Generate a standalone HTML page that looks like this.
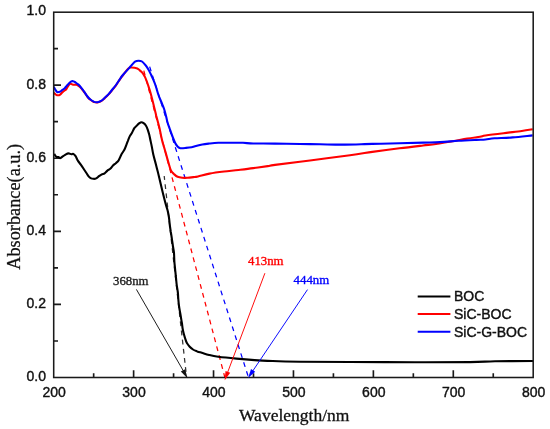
<!DOCTYPE html>
<html><head><meta charset="utf-8"><style>
html,body{margin:0;padding:0;background:#fff;}
svg{display:block;}
</style></head><body>
<svg width="550" height="429" viewBox="0 0 550 429">
<rect width="550" height="429" fill="#fff"/>
<path d="M53.7,340.95H58.0M53.7,304.40H61.0M53.7,267.85H58.0M53.7,231.30H61.0M53.7,194.75H58.0M53.7,158.20H61.0M53.7,121.65H58.0M53.7,85.10H61.0M53.7,48.55H58.0M93.66,377.5V373.2M133.62,377.5V370.2M173.58,377.5V373.2M213.54,377.5V370.2M253.50,377.5V373.2M293.46,377.5V370.2M333.42,377.5V373.2M373.38,377.5V370.2M413.34,377.5V373.2M453.30,377.5V370.2M493.26,377.5V373.2" stroke="#1a1a1a" stroke-width="1.65" fill="none"/>
<g stroke-width="1.25" stroke-dasharray="4.8 4.4" fill="none">
<line x1="164.2" y1="176" x2="186.6" y2="377.5" stroke="#333" stroke-dashoffset="0.9"/>
<line x1="143.2" y1="68.3" x2="224.9" y2="377.5" stroke="#f00" stroke-dashoffset="6.8"/>
<line x1="148.8" y1="64" x2="248.5" y2="377.5" stroke="#00f" stroke-dasharray="4.8 4.6" stroke-dashoffset="6.6"/>
</g>
<g fill="none" stroke-width="2.1" stroke-linejoin="round" stroke-linecap="butt">
<path d="M54.2,153.9 C54.5,154.4 55.4,156.2 56.1,156.7 C56.8,157.2 57.7,156.9 58.4,157.1 C59.1,157.3 59.5,158.2 60.3,158.1 C61.1,157.9 62.2,156.8 63.1,156.2 C64.0,155.6 65.0,154.8 65.9,154.3 C66.8,153.8 67.7,153.4 68.6,153.4 C69.5,153.4 70.6,154.2 71.4,154.3 C72.2,154.4 72.6,153.6 73.3,153.9 C74.0,154.2 74.8,155.0 75.6,156.2 C76.4,157.4 77.1,159.5 78.0,160.9 C78.9,162.3 79.9,163.3 80.8,164.6 C81.7,165.9 82.7,167.4 83.6,168.8 C84.5,170.2 85.6,171.8 86.4,173.0 C87.2,174.2 87.5,175.0 88.2,175.8 C88.9,176.7 89.7,177.6 90.6,178.1 C91.5,178.6 92.5,178.8 93.4,178.8 C94.3,178.9 95.3,178.8 96.2,178.4 C97.1,178.0 98.1,176.9 99.0,176.2 C99.9,175.5 100.9,174.9 101.8,174.4 C102.7,173.9 103.7,174.0 104.6,173.4 C105.5,172.8 106.5,171.4 107.4,170.6 C108.3,169.8 109.3,169.7 110.2,168.8 C111.1,168.0 112.1,166.4 113.0,165.5 C113.9,164.6 114.9,164.0 115.8,163.2 C116.7,162.3 117.6,161.9 118.6,160.4 C119.5,158.9 120.5,156.1 121.5,154.3 C122.5,152.5 123.7,151.1 124.5,149.5 C125.3,147.9 125.9,146.2 126.4,144.8 C127.0,143.4 127.2,142.5 127.8,141.1 C128.3,139.7 129.0,137.8 129.7,136.4 C130.4,135.0 131.2,134.1 132.0,132.7 C132.8,131.3 133.5,129.3 134.3,128.1 C135.2,126.9 136.2,126.1 137.1,125.3 C137.9,124.5 138.7,123.7 139.4,123.2 C140.1,122.7 140.6,122.3 141.3,122.3 C142.0,122.3 142.8,122.6 143.6,123.2 C144.4,123.8 145.3,124.6 146.0,125.7 C146.7,126.8 147.3,128.4 147.8,129.9 C148.3,131.4 148.7,132.7 149.2,134.6 C149.7,136.5 150.1,138.9 150.6,141.1 C151.1,143.3 151.6,145.4 152.0,147.6 C152.4,149.8 152.7,151.8 153.3,154.5 C153.9,157.2 155.1,161.2 155.8,164.0 C156.5,166.8 157.0,168.7 157.6,171.0 C158.2,173.3 158.6,175.0 159.3,178.0 C160.0,181.0 160.9,184.8 161.9,189.0 C162.9,193.2 164.5,199.5 165.4,203.0 C166.3,206.5 166.9,207.7 167.5,210.0 C168.1,212.3 168.5,214.5 168.9,217.0 C169.3,219.5 169.5,222.5 169.8,225.0 C170.1,227.5 170.5,229.7 170.8,232.0 C171.2,234.3 171.6,236.7 171.9,239.0 C172.2,241.3 172.6,243.7 172.9,246.0 C173.2,248.3 173.8,250.3 174.0,253.0 C174.2,255.7 174.2,259.3 174.4,262.0 C174.6,264.7 174.9,266.7 175.1,269.0 C175.3,271.3 175.6,273.5 175.8,276.0 C176.1,278.5 176.3,281.3 176.6,284.0 C176.9,286.7 177.5,289.5 177.8,292.0 C178.1,294.5 178.1,296.7 178.3,299.0 C178.5,301.3 178.7,303.7 179.0,306.0 C179.3,308.3 179.8,310.7 180.2,313.0 C180.6,315.3 181.0,317.8 181.3,319.7 C181.6,321.6 181.9,322.8 182.1,324.3 C182.3,325.9 182.4,327.4 182.7,329.0 C183.0,330.6 183.3,332.1 183.7,333.6 C184.1,335.2 184.6,336.7 185.1,338.3 C185.6,339.9 186.1,341.6 186.9,343.0 C187.7,344.4 188.7,345.6 189.7,346.7 C190.7,347.8 191.8,348.7 193.0,349.5 C194.2,350.3 195.7,350.8 197.2,351.4 C198.7,351.9 199.8,352.2 201.8,352.8 C203.8,353.4 206.4,354.3 209.1,355.0 C211.8,355.7 213.6,356.2 218.2,356.8 C222.8,357.4 230.3,358.1 236.4,358.6 C242.5,359.2 248.4,359.7 254.5,360.1 C260.6,360.5 265.1,360.7 272.7,361.0 C280.3,361.3 287.1,361.5 300.0,361.7 C312.9,361.9 330.8,361.9 350.0,362.0 C369.2,362.1 395.0,362.2 415.0,362.2 C435.0,362.2 456.7,362.2 470.0,362.1 C483.3,362.0 484.5,361.5 495.0,361.3 C505.5,361.1 526.7,361.1 533.0,361.0" stroke="#000"/>
<path d="M53.8,92.8 C54.1,93.1 55.2,94.2 55.9,94.6 C56.6,95.0 57.3,95.3 58.0,95.3 C58.7,95.3 59.4,95.1 60.1,94.6 C60.8,94.1 61.5,93.2 62.2,92.5 C62.9,91.8 63.6,91.3 64.3,90.7 C65.0,90.1 65.8,89.8 66.4,89.0 C67.1,88.2 67.6,86.7 68.2,85.8 C68.8,84.9 69.6,83.9 70.3,83.7 C71.0,83.5 71.7,84.2 72.4,84.4 C73.1,84.6 73.8,84.7 74.5,84.8 C75.2,84.9 75.7,84.4 76.6,84.8 C77.5,85.2 78.7,85.7 80.0,86.9 C81.3,88.1 83.1,90.6 84.3,92.2 C85.5,93.8 86.2,95.1 87.1,96.3 C88.0,97.5 88.8,98.5 89.9,99.4 C91.0,100.3 92.3,101.4 93.6,101.9 C94.8,102.4 96.2,102.6 97.4,102.5 C98.7,102.4 99.9,101.9 101.1,101.2 C102.3,100.5 103.5,99.2 104.8,98.1 C106.0,97.0 107.4,95.7 108.6,94.4 C109.8,93.1 110.8,91.8 112.0,90.3 C113.2,88.8 114.6,87.2 116.0,85.3 C117.4,83.3 119.2,80.3 120.4,78.6 C121.6,76.8 121.9,76.5 123.3,74.8 C124.7,73.1 127.2,69.5 128.6,68.3 C130.0,67.1 130.1,67.5 131.5,67.5 C132.9,67.5 135.9,67.9 137.3,68.4 C138.7,68.9 139.2,69.9 140.0,70.6 C140.8,71.3 141.5,71.7 142.3,72.7 C143.1,73.7 143.9,74.9 144.7,76.4 C145.5,78.0 146.3,80.1 147.0,82.0 C147.7,83.9 148.3,85.7 148.9,87.6 C149.5,89.5 150.0,91.1 150.7,93.5 C151.4,95.9 152.2,99.4 152.9,102.0 C153.6,104.6 154.0,106.7 154.6,109.0 C155.2,111.3 155.8,113.8 156.3,116.0 C156.9,118.2 157.3,119.8 157.9,122.0 C158.5,124.2 159.2,126.7 159.7,129.0 C160.2,131.3 160.6,133.8 161.1,136.0 C161.6,138.2 162.1,140.4 162.5,142.0 C162.9,143.6 163.1,143.9 163.6,145.6 C164.1,147.3 164.9,149.9 165.5,152.1 C166.1,154.3 166.7,156.4 167.3,158.6 C167.9,160.8 168.6,163.2 169.2,165.2 C169.8,167.2 170.3,169.3 171.1,170.8 C171.9,172.3 172.8,173.0 173.9,174.0 C175.0,175.0 176.2,176.2 177.6,176.8 C179.0,177.4 180.5,177.6 182.2,177.8 C183.9,178.0 185.9,177.9 187.8,177.8 C189.7,177.7 191.7,177.3 193.4,177.1 C195.1,176.9 195.3,177.0 198.0,176.4 C200.7,175.8 205.2,174.4 209.5,173.6 C213.8,172.8 219.2,172.1 224.1,171.5 C228.9,170.9 233.8,170.6 238.6,170.0 C243.4,169.4 248.3,168.8 253.2,168.1 C258.1,167.4 264.1,166.6 267.7,166.1 C271.3,165.6 267.9,165.8 275.0,164.9 C282.1,164.0 297.5,162.1 310.0,160.5 C322.5,158.9 339.6,156.6 350.0,155.2 C360.4,153.8 364.1,153.1 372.3,151.9 C380.6,150.8 391.1,149.4 399.5,148.3 C407.9,147.2 416.9,146.2 423.0,145.5 C429.1,144.8 431.1,144.7 436.0,144.0 C440.9,143.3 447.5,142.2 452.7,141.3 C457.9,140.4 462.8,139.3 467.3,138.6 C471.9,137.8 477.0,137.3 480.0,136.8 C483.0,136.3 481.6,136.1 485.5,135.5 C489.4,134.9 497.6,133.9 503.6,133.2 C509.7,132.4 516.9,131.7 521.8,131.0 C526.6,130.3 530.9,129.5 532.7,129.2" stroke="#f00"/>
<path d="M53.8,86.9 C54.1,87.4 55.0,89.1 55.6,90.0 C56.2,90.9 56.6,91.8 57.3,92.1 C58.0,92.4 59.0,92.1 59.8,91.8 C60.6,91.5 61.4,90.6 62.2,90.0 C63.0,89.4 63.9,89.0 64.7,88.3 C65.5,87.6 66.1,86.6 66.8,85.8 C67.5,85.0 68.2,84.1 68.9,83.4 C69.6,82.7 70.3,82.0 71.0,81.6 C71.7,81.2 72.5,81.1 73.1,81.2 C73.7,81.3 74.2,81.7 74.8,82.0 C75.4,82.3 75.9,82.8 76.6,83.3 C77.2,83.8 77.9,84.0 78.7,84.8 C79.5,85.6 80.6,86.9 81.5,88.1 C82.4,89.3 83.4,90.5 84.3,91.8 C85.2,93.1 86.2,94.8 87.1,96.0 C88.0,97.2 88.8,98.2 89.9,99.1 C91.0,100.0 92.3,101.1 93.6,101.6 C94.8,102.1 96.2,102.3 97.4,102.2 C98.7,102.1 99.9,101.6 101.1,100.9 C102.3,100.2 103.5,98.9 104.8,97.8 C106.0,96.7 107.4,95.4 108.6,94.1 C109.8,92.8 110.8,91.5 112.0,90.0 C113.2,88.5 114.6,87.0 116.0,85.0 C117.4,83.0 119.2,80.0 120.4,78.3 C121.6,76.5 121.8,76.2 123.3,74.5 C124.8,72.8 127.6,69.7 129.1,68.1 C130.5,66.5 131.0,65.9 132.0,64.8 C133.0,63.7 133.9,62.4 135.0,61.7 C136.1,61.0 137.3,60.7 138.5,60.7 C139.7,60.7 140.8,60.7 142.0,61.5 C143.2,62.3 144.5,64.0 145.6,65.3 C146.7,66.6 147.5,67.9 148.4,69.5 C149.3,71.1 150.3,73.2 151.2,75.0 C152.0,76.8 152.7,78.3 153.5,80.2 C154.3,82.1 155.1,84.0 155.9,86.5 C156.7,89.0 157.6,92.4 158.5,95.0 C159.4,97.6 160.4,99.7 161.3,102.0 C162.2,104.3 163.3,106.7 164.1,109.0 C164.9,111.3 165.4,113.8 166.0,116.0 C166.6,118.2 166.8,119.8 167.4,122.0 C168.0,124.2 169.0,126.7 169.8,129.0 C170.6,131.3 171.4,133.7 172.3,136.0 C173.2,138.3 174.3,141.2 175.2,143.0 C176.1,144.8 176.7,145.6 177.6,146.5 C178.5,147.4 179.0,148.0 180.4,148.2 C181.8,148.4 184.1,148.1 186.0,147.9 C187.9,147.8 190.1,147.6 191.6,147.3 C193.1,147.0 193.2,146.8 195.0,146.3 C196.8,145.8 199.9,145.0 202.3,144.5 C204.7,144.0 206.8,143.8 209.5,143.5 C212.2,143.2 214.7,142.9 218.3,142.8 C222.0,142.7 227.3,142.7 231.4,142.7 C235.5,142.7 239.4,142.7 243.0,142.8 C246.6,142.9 247.9,143.4 253.2,143.5 C258.5,143.6 267.2,143.5 275.0,143.6 C282.8,143.7 292.5,143.9 300.0,144.0 C307.5,144.1 312.5,144.2 320.0,144.3 C327.5,144.4 336.3,144.7 345.0,144.6 C353.7,144.5 363.2,144.1 372.3,143.9 C381.4,143.7 391.0,143.4 399.5,143.2 C408.0,143.0 416.4,142.8 423.2,142.6 C429.9,142.4 434.2,142.4 440.0,142.1 C445.8,141.8 452.1,141.2 458.2,140.8 C464.3,140.4 471.8,140.1 476.4,139.9 C480.9,139.7 482.5,139.8 485.5,139.5 C488.5,139.2 490.0,138.7 494.5,138.3 C499.0,138.0 506.3,137.9 512.7,137.4 C519.1,136.9 529.4,135.7 532.7,135.4" stroke="#00f"/>
</g>
<rect x="53.7" y="12.2" width="479.5" height="365.3" fill="none" stroke="#1a1a1a" stroke-width="1.55"/>
<line x1="136.4" y1="289.4" x2="184.4" y2="372.7" stroke="#111" stroke-width="0.95"/><polygon points="187.5,378.2 180.8,371.6 185.2,369.2" fill="#111"/>
<line x1="264.9" y1="273.2" x2="226.9" y2="374.3" stroke="#f00" stroke-width="0.95"/><polygon points="224.7,380.2 225.5,370.9 230.2,372.7" fill="#f00"/>
<line x1="307.5" y1="289.6" x2="251.6" y2="372.7" stroke="#00f" stroke-width="0.95"/><polygon points="248.1,377.9 251.0,369.0 255.2,371.8" fill="#00f"/>
<g font-family="Liberation Serif, serif" font-size="12.8" stroke-width="0.35">
<text x="113" y="285.1" fill="#222" stroke="#222">368nm</text>
<text x="248" y="265" fill="#f00" stroke="#f00">413nm</text>
<text x="293.6" y="284.3" fill="#00f" stroke="#00f">444nm</text>
</g>
<g font-family="Liberation Sans, sans-serif" font-size="14" fill="#111" stroke="#111" stroke-width="0.4">
<text x="46" y="380.9" text-anchor="end">0.0</text>
<text x="46" y="307.8" text-anchor="end">0.2</text>
<text x="46" y="234.7" text-anchor="end">0.4</text>
<text x="46" y="161.6" text-anchor="end">0.6</text>
<text x="46" y="88.5" text-anchor="end">0.8</text>
<text x="46" y="15.4" text-anchor="end">1.0</text>
<text x="54.1" y="396.5" text-anchor="middle">200</text>
<text x="134.0" y="396.5" text-anchor="middle">300</text>
<text x="213.9" y="396.5" text-anchor="middle">400</text>
<text x="293.9" y="396.5" text-anchor="middle">500</text>
<text x="373.8" y="396.5" text-anchor="middle">600</text>
<text x="453.7" y="396.5" text-anchor="middle">700</text>
<text x="533.6" y="396.5" text-anchor="middle">800</text>
</g>
<text x="294.2" y="421.2" text-anchor="middle" font-family="Liberation Serif, serif" font-size="17.5" fill="#111" stroke="#111" stroke-width="0.3">Wavelength/nm</text>
<text transform="translate(20,206.8) rotate(-90)" text-anchor="middle" font-family="Liberation Serif, serif" font-size="18.3" fill="#111" stroke="#111" stroke-width="0.25">Absorbance(a.u.)</text>
<line x1="417.7" y1="296.4" x2="450.4" y2="296.4" stroke="#000" stroke-width="2"/>
<text x="454" y="301.4" font-family="Liberation Sans, sans-serif" font-size="14" fill="#111" stroke="#111" stroke-width="0.4">BOC</text>
<line x1="417.7" y1="314.1" x2="450.4" y2="314.1" stroke="#f00" stroke-width="2"/>
<text x="454" y="319.1" font-family="Liberation Sans, sans-serif" font-size="14" fill="#111" stroke="#111" stroke-width="0.4">SiC-BOC</text>
<line x1="417.7" y1="331.8" x2="450.4" y2="331.8" stroke="#00f" stroke-width="2"/>
<text x="454" y="336.8" font-family="Liberation Sans, sans-serif" font-size="14" fill="#111" stroke="#111" stroke-width="0.4">SiC-G-BOC</text>
</svg>
</body></html>
